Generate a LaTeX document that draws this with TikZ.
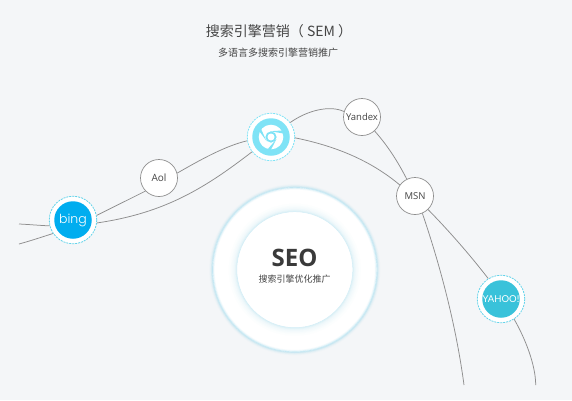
\documentclass[tikz,border=0pt]{standalone}
\usepackage{fontspec}
\setmainfont{Open Sans}
\newfontfamily\cjk{Noto Sans CJK SC}
\newfontfamily\thinf{Lato}
\newfontfamily\roundf[UprightFont=* Light]{Poppins}
\definecolor{bgc}{HTML}{F4F6F8}
\definecolor{linec}{HTML}{8E8E8E}
\definecolor{textc}{HTML}{444444}
\definecolor{bingc}{HTML}{00ADEF}
\definecolor{chromec}{HTML}{7FE3F6}
\definecolor{yahooc}{HTML}{39C2DA}
\definecolor{dashc}{HTML}{62D3EA}
\definecolor{glowc}{HTML}{A5DCEE}
\tikzset{
  wire/.style={draw=linec,line width=0.75pt},
  plain/.style={circle,draw=linec,fill=white,line width=0.7pt,minimum size=37pt,inner sep=0pt,text=textc,font=\fontsize{10}{12}\selectfont},
  halo/.style={circle,draw=#1,dash pattern=on 2pt off 1pt,fill=white,line width=0.8pt,minimum size=47.5pt,inner sep=0pt},
  disc/.style={circle,fill=#1,minimum size=37.5pt,inner sep=0pt,text=white},
  gap/.style={fill=chromec},
}
\begin{document}
\begin{tikzpicture}[x=1pt,y=-1pt]
\path[use as bounding box,fill=bgc] (0,0) rectangle (572,400);
% titles
\node[text=textc,font=\fontsize{14}{16}\selectfont\cjk] (title) at (279,31) {搜索引擎营销（ SEM ）};
\node[text=textc,font=\fontsize{10}{12}\selectfont\cjk] (subtitle) at (278,53) {多语言多搜索引擎营销推广};
% free ends
\coordinate (fa) at (19,224);
\coordinate (fb) at (19,244);
\coordinate (fc) at (464,385);
\coordinate (fd) at (535.7,385);
% nodes
\node[halo=dashc] (bing) at (73,220) {};
\node[disc=bingc,font=\fontsize{12.5}{14}\selectfont\roundf] (bingd) at (73,220) {bing};
\node[plain] (aol) at (159,178) {Aol};
\node[halo=chromec] (chrome) at (271,137) {};
\node[disc=chromec] (chromed) at (271,137) {};
\node[plain,font=\fontsize{9.5}{12}\selectfont] (yandex) at (362,117) {Yandex};
\node[plain,font=\fontsize{9.5}{12}\selectfont] (msn) at (415,196) {MSN};
\node[halo=dashc] (yahoo) at (501,299) {};
\node[disc=yahooc,font=\fontsize{9.5}{11}\selectfont\thinf] (yahood) at (501,299) {YAHOO!};
% chrome glyph
\fill[white] (271,137) circle (12.3);
\fill[chromec] (271,137) circle (5.6);
\fill[white] (271,137) circle (3.5);
\fill[gap] (270,131.2) -- (284,130.4) -- (284,133.6) -- cycle;
\fill[gap] (266.5,141) -- (257.3,128.5) -- (260,126.7) -- cycle;
\fill[gap] (276.5,139) -- (270.7,150.2) -- (267.5,149.4) -- cycle;
% connectors
\draw[wire] (fa) .. controls (30,224.5) and (40,225.5) .. (bing.194);
\draw[wire] (fb) .. controls (30,241) and (42,237) .. (bing.214);
\draw[wire] (bing.11) -- (aol.224);
\draw[wire] (aol.15) .. controls (200,160) and (225,146) .. (chrome.189);
\draw[wire] (bing.-7) .. controls (165,213) and (205,188) .. (chrome.218);
\draw[wire] (chrome.37) .. controls (308,110) and (330,105) .. (yandex.163);
\draw[wire] (chrome.-2) .. controls (335,146) and (370,160) .. (msn.144);
\draw[wire] (yandex.-48) .. controls (388,146) and (398,162) .. (msn.116);
\draw[wire] (msn.-46) .. controls (450,232) and (470,255) .. (yahoo.122);
\draw[wire] (msn.-67) .. controls (440,265) and (456,325) .. (fc);
\draw[wire] (yahoo.-57) .. controls (525,338) and (535.7,365) .. (fd);
% SEO rings
\foreach \r/\o in {85.5/0.06,84.6/0.12,83.8/0.2,83/0.3}{\fill[glowc,opacity=\o] (294.8,269.7) circle (\r);}
\node[circle,fill=white,minimum size=165pt,inner sep=0pt] (seoouter) at (294.8,269.7) {};
\foreach \r/\o in {82.2/0.55,81.4/0.25,80.6/0.1}{\draw[glowc,line width=0.9pt,opacity=\o] (294.8,269.7) circle (\r);}
\foreach \r/\o in {66/0.04,64/0.05,62.5/0.07,61/0.1,59.8/0.14,59/0.2}{\fill[glowc!70!white,opacity=\o] (294.8,269.7) circle (\r);}
\node[circle,draw=glowc!50!white,line width=0.5pt,fill=white,minimum size=116pt,inner sep=0pt] (seoinner) at (294.8,269.7) {};
\node[text=textc!85!black,font=\fontsize{24}{28}\selectfont\bfseries] (seo) at (294.5,258) {SEO};
\node[text=textc,font=\fontsize{9}{11}\selectfont\cjk] (seosub) at (294.5,279.5) {搜索引擎优化推广};
\end{tikzpicture}
\end{document}
